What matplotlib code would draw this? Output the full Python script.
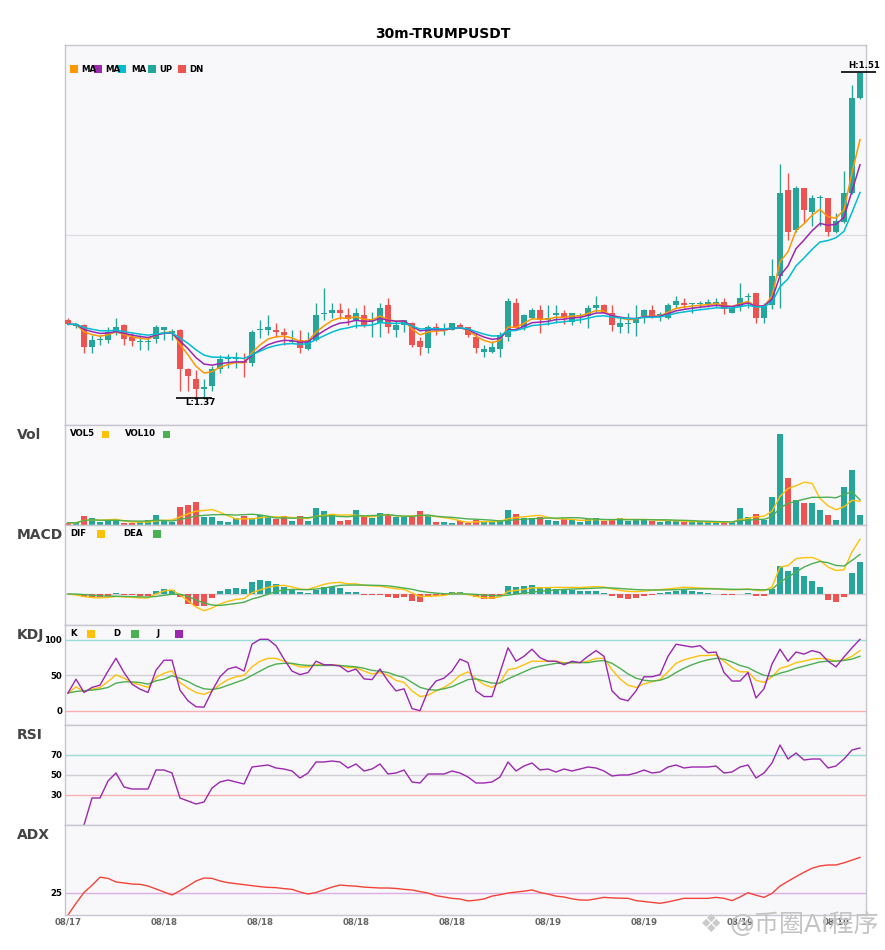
import numpy as np
import pandas as pd
import matplotlib
matplotlib.use("Agg")
import matplotlib.pyplot as plt
from matplotlib.patches import Rectangle

# ---------------- data ----------------
title = "30m-TRUMPUSDT"
tick_idx = [0, 12, 24, 36, 48, 60, 72, 84, 96]
tick_labels = ["08/17", "08/18", "08/18", "08/18", "08/18", "08/19", "08/19", "08/19", "08/19"]
ma_spans = [5, 8, 13]

opens = [1.4035, 1.4010, 1.4014, 1.3921, 1.3948, 1.3950, 1.3985, 1.4014, 1.3964, 1.3941,
         1.3941, 1.3953, 1.3993, 1.3981, 1.3993, 1.3826, 1.3783, 1.3741, 1.3754, 1.3826,
         1.3866, 1.3866, 1.3860, 1.3850, 1.3991, 1.3993, 1.3993, 1.3985, 1.3941, 1.3950,
         1.3911, 1.3950, 1.4061, 1.4067, 1.4078, 1.4057, 1.4035, 1.4057, 1.4029, 1.4021,
         1.4100, 1.3993, 1.4014, 1.4021, 1.3943, 1.3914, 1.4007, 1.3991, 1.3993, 1.4014,
         1.4004, 1.3964, 1.3900, 1.3900, 1.3911, 1.3964, 1.4107, 1.4007, 1.4045, 1.4078,
         1.4037, 1.4058, 1.4064, 1.4026, 1.4050, 1.4050, 1.4088, 1.4100, 1.4067, 1.4007,
         1.4017, 1.4024, 1.4050, 1.4078, 1.4055, 1.4045, 1.4100, 1.4107, 1.4102, 1.4102,
         1.4105, 1.4104, 1.4114, 1.4067, 1.4090, 1.4133, 1.4150, 1.4045, 1.4100, 1.4224,
         1.4592, 1.4421, 1.4599, 1.4499, 1.4556, 1.4556, 1.4413, 1.4456, 1.4578, 1.4984]
highs = [1.4044, 1.4024, 1.4018, 1.3971, 1.3971, 1.4007, 1.4043, 1.4016, 1.3980, 1.3971,
         1.3964, 1.4014, 1.4006, 1.3996, 1.3995, 1.3828, 1.3821, 1.3782, 1.3836, 1.3886,
         1.3890, 1.3900, 1.3894, 1.3993, 1.4035, 1.4057, 1.4021, 1.3999, 1.3993, 1.3993,
         1.3985, 1.4109, 1.4171, 1.4109, 1.4109, 1.4085, 1.4085, 1.4100, 1.4071, 1.4107,
         1.4128, 1.4035, 1.4037, 1.4028, 1.3964, 1.4014, 1.4021, 1.4021, 1.4023, 1.4024,
         1.4007, 1.3978, 1.3928, 1.3943, 1.3985, 1.4128, 1.4128, 1.4059, 1.4085, 1.4100,
         1.4100, 1.4100, 1.4078, 1.4066, 1.4064, 1.4100, 1.4138, 1.4102, 1.4100, 1.4043,
         1.4064, 1.4100, 1.4080, 1.4100, 1.4071, 1.4109, 1.4138, 1.4128, 1.4107, 1.4118,
         1.4124, 1.4128, 1.4128, 1.4087, 1.4192, 1.4152, 1.4152, 1.4107, 1.4295, 1.4702,
         1.4663, 1.4609, 1.4601, 1.4570, 1.4570, 1.4558, 1.4494, 1.4673, 1.5041, 1.5098]
lows = [1.4014, 1.4000, 1.3895, 1.3895, 1.3928, 1.3936, 1.3971, 1.3928, 1.3924, 1.3907,
        1.3907, 1.3936, 1.3950, 1.3950, 1.3729, 1.3729, 1.3700, 1.3707, 1.3729, 1.3807,
        1.3829, 1.3829, 1.3793, 1.3836, 1.3957, 1.3971, 1.3961, 1.3928, 1.3936, 1.3895,
        1.3907, 1.3943, 1.4035, 1.4043, 1.4038, 1.4014, 1.4000, 1.4007, 1.3964, 1.3961,
        1.3978, 1.3961, 1.3985, 1.3921, 1.3886, 1.3895, 1.3971, 1.3971, 1.3991, 1.4000,
        1.3964, 1.3895, 1.3876, 1.3895, 1.3876, 1.3947, 1.3993, 1.3993, 1.4038, 1.3981,
        1.4014, 1.4021, 1.4018, 1.4014, 1.4021, 1.4002, 1.4071, 1.4064, 1.3990, 1.3981,
        1.3981, 1.3967, 1.4021, 1.4043, 1.4032, 1.4038, 1.4085, 1.4085, 1.4064, 1.4085,
        1.4092, 1.4092, 1.4061, 1.4064, 1.4075, 1.4085, 1.4021, 1.4021, 1.4081, 1.4085,
        1.4378, 1.4413, 1.4449, 1.4438, 1.4438, 1.4395, 1.4406, 1.4449, 1.4575, 1.4980]
closes = [1.4017, 1.4014, 1.3921, 1.3950, 1.3951, 1.3985, 1.4007, 1.3953, 1.3943, 1.3944,
          1.3944, 1.4007, 1.4004, 1.3984, 1.3826, 1.3796, 1.3740, 1.3750, 1.3826, 1.3869,
          1.3869, 1.3869, 1.3850, 1.3983, 1.3993, 1.4004, 1.3983, 1.3971, 1.3943, 1.3914,
          1.3950, 1.4057, 1.4064, 1.4078, 1.4067, 1.4038, 1.4064, 1.4014, 1.4031, 1.4085,
          1.4007, 1.4014, 1.4035, 1.3928, 1.3921, 1.4007, 1.3996, 1.3993, 1.4021, 1.4007,
          1.3971, 1.3914, 1.3911, 1.3918, 1.3971, 1.4117, 1.4000, 1.4057, 1.4078, 1.4035,
          1.4040, 1.4064, 1.4043, 1.4064, 1.4053, 1.4085, 1.4100, 1.4067, 1.4014, 1.4024,
          1.4024, 1.4038, 1.4078, 1.4050, 1.4057, 1.4100, 1.4117, 1.4101, 1.4104, 1.4104,
          1.4107, 1.4114, 1.4081, 1.4085, 1.4128, 1.4135, 1.4045, 1.4100, 1.4224, 1.4578,
          1.4413, 1.4599, 1.4506, 1.4556, 1.4559, 1.4413, 1.4460, 1.4578, 1.4984, 1.5091]
volumes = [230, 200, 930, 730, 270, 450, 450, 150, 150, 270,
           450, 1030, 450, 300, 1770, 2030, 2330, 770, 770, 430,
           330, 670, 870, 730, 1030, 770, 600, 870, 430, 870,
           430, 1670, 1370, 1000, 430, 530, 1530, 870, 670, 1170,
           1030, 770, 770, 770, 1430, 930, 270, 270, 170, 430,
           200, 500, 300, 300, 500, 1500, 1100, 700, 700, 800,
           500, 400, 600, 500, 300, 600, 700, 400, 600, 700,
           400, 600, 500, 400, 300, 500, 400, 270, 270, 270,
           270, 270, 270, 270, 1670, 770, 1130, 500, 2770, 9030,
           4670, 2530, 2230, 2230, 1530, 1030, 530, 3730, 5430, 1030]
# MACD values (x 1e-4)
macd_dif = [0, -1.0, -2.7, -3.5, -4.0, -3.5, -2.5, -3.0, -3.3, -4.0,
            -4.0, 0, 3.0, 4.0, -1.0, -7.0, -13.0, -16.7, -14.0, -10.0,
            -7.3, -5.5, -4.5, 1.0, 4.0, 6.5, 8.0, 8.5, 7.0, 4.8,
            4.5, 7.0, 9.5, 11.0, 11.5, 10.0, 10.0, 8.5, 8.0, 7.8,
            6.3, 5.2, 4.5, 1.0, -2.5, -2.3, -2.0, -1.5, 0.5, 0.6,
            -0.6, -2.5, -3.8, -4.0, -3.0, 2.5, 3.5, 4.5, 6.0, 6.0,
            6.3, 6.5, 6.3, 6.5, 6.3, 6.8, 7.3, 6.8, 5.0, 3.5,
            2.5, 2.2, 2.8, 3.6, 4.2, 5.0, 5.8, 6.6, 6.4, 5.8,
            5.5, 5.2, 4.3, 4.0, 4.3, 5.0, 3.5, 3.2, 7.0, 26.7,
            28.3, 35.0, 36.0, 36.3, 33.3, 26.7, 23.3, 24.0, 41.7, 54.3]
macd_dea = [0, -0.2, -0.7, -1.3, -1.9, -2.2, -2.3, -2.5, -2.7, -2.9,
            -3.1, -2.5, -1.4, -0.3, -0.4, -2.5, -6.0, -9.0, -11.0, -11.5,
            -10.5, -9.5, -8.3, -5.0, -3.0, -0.3, 2.5, 4.0, 4.5, 4.3,
            4.2, 4.8, 5.8, 7.3, 8.5, 8.8, 8.8, 8.8, 8.6, 8.4,
            8.0, 7.0, 5.8, 4.6, 2.8, 1.6, 0.8, 0.2, 0.0, 0.0,
            -0.1, -0.5, -1.1, -1.6, -1.9, -1.2, -0.1, 0.8, 1.8, 2.6,
            3.3, 3.9, 4.4, 4.8, 5.1, 5.4, 5.8, 6.1, 5.9, 5.4,
            4.8, 4.3, 4.0, 3.9, 3.9, 4.0, 4.2, 4.6, 4.9, 5.0,
            5.0, 5.0, 4.8, 4.6, 4.5, 4.5, 4.3, 4.0, 4.5, 11.7,
            16.7, 21.7, 26.7, 30.0, 32.3, 31.0, 28.3, 27.7, 33.3, 39.3]
macd_hist = [0, -1.0, -3.5, -4.0, -3.5, -2.5, 1.0, -0.8, -1.2, -2.0,
             -1.6, 3.3, 5.0, 4.0, -3.0, -10.0, -12.3, -12.3, -4.0, 3.0,
             5.3, 6.0, 5.3, 11.7, 14.0, 13.3, 10.0, 6.7, 4.3, 1.7,
             1.0, 4.3, 7.3, 7.3, 6.0, 2.3, 2.3, -0.6, -1.3, -1.3,
             -3.3, -3.7, -2.7, -6.7, -8.3, -2.7, -2.0, -1.5, 2.3, 2.3,
             -0.3, -3.3, -5.4, -4.8, -2.2, 7.4, 7.2, 7.4, 8.4, 6.8,
             6.0, 5.2, 3.8, 3.4, 2.4, 2.8, 3.0, 1.4, -1.8, -3.8,
             -4.6, -4.2, -2.4, -0.6, 0.6, 2.0, 3.2, 4.0, 3.0, 1.6,
             1.0, 0.4, -1.0, -1.2, -0.4, 1.0, -1.6, -1.6, 5.0, 27.3,
             22.3, 26.3, 18.3, 13.3, 7.3, -5.7, -8.3, -3.3, 20.7, 31.7]
kdj_k = [25, 33.8, 26.8, 30.5, 32.9, 41.3, 50.7, 46, 39.9, 36.6,
         32.9, 46.9, 53, 56.3, 39.9, 32, 25.8, 23, 28, 37,
         44, 48, 50, 62, 70, 74, 74, 70, 66, 62,
         62, 65, 65, 65, 64, 61, 61, 56, 52, 54,
         50, 43, 40, 28, 20, 22, 28, 33, 40, 50,
         55, 45, 37, 33, 40, 58, 60, 65, 70, 70,
         70, 70, 68, 68, 68, 70, 74, 74, 58, 45,
         36, 33, 38, 41, 44, 55, 67, 72, 75, 78,
         78, 79, 70, 61, 55, 55, 43, 40, 48, 60,
         63, 68, 70, 73, 74, 73, 70, 72, 77, 85]
kdj_d = [25, 27.2, 28.2, 29.1, 30.5, 32.9, 39, 40.8, 40.8, 39.9,
         37.6, 42.3, 44.6, 49.3, 46, 41.3, 35.2, 31, 30, 32,
         36, 40, 44, 50, 56, 62, 66, 67, 67, 65,
         64, 64, 64, 64, 64, 63, 62, 60, 57, 56,
         54, 50, 47, 40, 33, 30, 29, 31, 34, 39,
         44, 45, 42, 39, 39, 45, 50, 55, 60, 63,
         65, 67, 67, 68, 68, 68, 70, 71, 67, 60,
         52, 46, 43, 42, 43, 47, 54, 60, 65, 69,
         72, 74, 73, 69, 64, 61, 55, 50, 49, 53,
         56, 60, 63, 66, 69, 70, 70, 71, 73, 77]
kdj_j = [25, 44.6, 25.8, 32.9, 36.2, 56, 74.2, 54, 37.6, 30.5,
         25.8, 57.3, 71.4, 71.4, 29.1, 14, 5.6, 5, 28, 48,
         59, 62, 56, 94, 101, 101, 92, 73, 56, 51,
         54, 70, 65, 65, 63, 55, 59, 45, 44, 59,
         42, 28, 31, 3, 0, 28, 42, 46, 56, 73,
         68, 28, 20, 20, 54, 89, 70, 77, 87, 75,
         70, 70, 65, 70, 68, 77, 85, 77, 28, 17,
         14, 28, 48, 48, 51, 77, 94, 92, 90, 92,
         82, 83, 54, 42, 42, 54, 18, 31, 66, 87,
         70, 83, 80, 85, 82, 70, 62, 76, 89, 101]
rsi = [np.nan, np.nan, 0, 27, 27, 44, 52, 38, 36, 36,
       36, 55, 55, 52, 27, 24, 21, 23, 37, 43,
       45, 43, 41, 58, 59, 60, 57, 56, 54, 47,
       52, 63, 63, 64, 63, 57, 61, 54, 56, 61,
       51, 52, 55, 43, 42, 51, 51, 51, 54, 52,
       48, 42, 42, 43, 48, 63, 54, 59, 62, 55,
       56, 53, 56, 54, 56, 58, 57, 54, 49, 50,
       50, 52, 55, 52, 53, 58, 60, 57, 58, 58,
       58, 59, 52, 53, 58, 60, 47, 52, 62, 80,
       66, 72, 65, 66, 66, 57, 59, 66, 75, 77]
adx = [0, 13, 25, 33, 42, 40.7, 36.7, 35.6, 34.4, 34.1,
       32.2, 28.9, 25.6, 22.2, 27, 32.2, 37.8, 41.1, 40.7, 37.8,
       35.9, 34.8, 33.7, 32.6, 31.5, 30.7, 30.4, 29.3, 28.5, 25.6,
       23.3, 25, 28, 31, 33.3, 32.5, 32, 31, 30.5, 30,
       30, 29.5, 28.5, 27.8, 26, 24.4, 21.5, 20, 18.5, 17.8,
       15.6, 16.5, 17.8, 21, 22.5, 24.4, 25.5, 26.5, 27.8, 25,
       23.3, 21, 20, 18, 16.7, 16.5, 18, 19.6, 19, 18.7,
       18.5, 16, 15, 14, 13, 14.5, 16.5, 18.5, 18.5, 18.5,
       18.5, 19.6, 18.5, 16, 20, 24.8, 22, 19.6, 24, 32.2,
       37.5, 42.6, 47.5, 51.9, 54.5, 55.6, 55.6, 58, 61, 64]

# ---------------- style ----------------
UP, DN = "#26a69a", "#ef5350"
C_MA = ["#ff9800", "#9c27b0", "#00bcd4"]
C_Y, C_G, C_P = "#ffc107", "#4caf50", "#9c27b0"
BG, SPINE = "#f8f8fb", "#c6c6ce"
W, H = 885, 950
XL = (-0.375, 99.75)

o = np.array(opens); h = np.array(highs); l = np.array(lows); c = np.array(closes)
v = np.array(volumes, dtype=float)
n = len(c)
x = np.arange(n)
up = c >= o
cols = np.where(up, UP, DN)

cs = pd.Series(c)
mas = [cs.ewm(span=s, adjust=False).mean() for s in ma_spans]
vs = pd.Series(v)
vol5 = vs.rolling(5, min_periods=1).mean()
vol10 = vs.rolling(10, min_periods=1).mean()
dif = np.array(macd_dif); dea = np.array(macd_dea); hist = np.array(macd_hist)

fig = plt.figure(figsize=(W / 100, H / 100), dpi=100)
fig.patch.set_facecolor("white")


def add_ax(top, bottom):
    ax = fig.add_axes([65 / W, 1 - bottom / H, 801 / W, (bottom - top) / H])
    ax.set_facecolor(BG)
    for s in ax.spines.values():
        s.set_color(SPINE)
        s.set_linewidth(1.0)
    ax.set_xlim(*XL)
    ax.set_xticks([])
    ax.tick_params(axis="both", length=0, labelsize=6.2, pad=2)
    return ax


def ftxt(px, py, s, **kw):
    kw.setdefault("fontsize", 6.2)
    kw.setdefault("fontweight", "bold")
    kw.setdefault("va", "center")
    fig.text(px / W, 1 - py / H, s, **kw)


def fsq(px, py, color, size=8):
    fig.add_artist(Rectangle((px / W, 1 - (py + size / 2) / H), size / W, size / H,
                             transform=fig.transFigure, color=color, lw=0))


# ---- main candle panel
ax = add_ax(45, 425)
ax.vlines(x, l, h, colors=cols, lw=1.0, zorder=2)
minh = 0.0006
ax.bar(x, np.maximum(np.abs(c - o), minh), bottom=np.minimum(o, c), width=0.75,
       color=cols, zorder=3)
for m, col in zip(mas, C_MA):
    ax.plot(x, m, color=col, lw=1.1, zorder=4)
lo, hi = l.min(), h.max()
rng = hi - lo
ax.set_ylim(lo - 0.082 * rng, hi + 0.082 * rng)
mid = sum(ax.get_ylim()) / 2
ax.set_yticks([mid])
ax.tick_params(axis="y", labelleft=False)
ax.grid(axis="y", color="#dcdce2", lw=0.9)
ax.set_axisbelow(True)
il, ih = int(np.argmin(l)), int(np.argmax(h))
ax.hlines(lo, il - 2.5, il + 2.0, color="black", lw=1.2, zorder=5)
ax.text(il + 0.5, lo, "L:%.2f" % lo, ha="center", va="top", fontsize=6.2,
        fontweight="bold", zorder=5)
ax.hlines(hi, ih - 2.4, ih + 2.0, color="black", lw=1.2, zorder=5, clip_on=False)
ax.text(ih + 0.5, hi + 0.0006, "H:%.2f" % hi, ha="center", va="bottom", fontsize=6.2,
        fontweight="bold", zorder=5, clip_on=False)

# main legend
fsq(70, 69, C_MA[0]); ftxt(81, 69, "MA")
fsq(94, 69, C_MA[1]); ftxt(105, 69, "MA")
fsq(118, 69, C_MA[2]); ftxt(131, 69, "MA")
fsq(148, 69, UP); ftxt(159, 69, "UP")
fsq(178, 69, DN); ftxt(189, 69, "DN")

fig.text(0.5, 1 - 34 / H, title, ha="center", va="center", fontsize=10, fontweight="bold")

# ---- volume
axv = add_ax(425, 525)
axv.bar(x, v, width=0.78, color=cols)
axv.plot(x, vol5, color=C_Y, lw=1.0)
axv.plot(x, vol10, color=C_G, lw=1.0)
axv.set_ylim(0, v.max() * 1.1)
axv.set_yticks([])
ftxt(70, 434, "VOL5"); fsq(102, 434, C_Y, 7)
ftxt(125, 434, "VOL10"); fsq(163, 434, C_G, 7)

# ---- MACD
axm = add_ax(525, 625)
hcols = np.where(hist >= 0, UP, DN)
axm.axhline(0, color="#d2d2d8", lw=1.0, zorder=1)
axm.bar(x, hist, width=0.78, color=hcols, zorder=2)
axm.plot(x, dif, color=C_Y, lw=1.0, zorder=3)
axm.plot(x, dea, color=C_G, lw=1.0, zorder=3)
allm = np.concatenate([dif, dea, hist, [0]])
mr = allm.max() - allm.min()
axm.set_ylim(allm.min() - 0.2 * mr, allm.max() + 0.2 * mr)
axm.set_yticks([])
ftxt(70, 534, "DIF"); fsq(97, 534, C_Y, 8)
ftxt(123, 534, "DEA"); fsq(153, 534, C_G, 8)

# ---- KDJ
axk = add_ax(625, 725)
axk.axhline(100, color="#9adcd6", lw=1.0, zorder=1)
axk.axhline(50, color="#cfcfd4", lw=1.0, zorder=1)
axk.axhline(0, color="#f6b0b0", lw=1.0, zorder=1)
axk.plot(x, kdj_k, color=C_Y, lw=1.0)
axk.plot(x, kdj_d, color=C_G, lw=1.0)
axk.plot(x, kdj_j, color=C_P, lw=1.0)
allk = np.concatenate([kdj_k, kdj_d, kdj_j])
kr = allk.max() - allk.min()
axk.set_ylim(allk.min() - 0.2 * kr, allk.max() + 0.2 * kr)
axk.set_yticks([0, 50, 100])
axk.set_yticklabels(["0", "50", "100"], fontweight="bold")
ftxt(70, 634, "K"); fsq(87, 634, C_Y, 8)
ftxt(113, 634, "D"); fsq(131, 634, C_G, 8)
ftxt(157, 634, "J"); fsq(175, 634, C_P, 8)

# ---- RSI
axr = add_ax(725, 825)
axr.axhline(70, color="#9adcd6", lw=1.0, zorder=1)
axr.axhline(50, color="#cfcfd4", lw=1.0, zorder=1)
axr.axhline(30, color="#f6b0b0", lw=1.0, zorder=1)
axr.plot(x, rsi, color=C_P, lw=1.0)
axr.set_ylim(0, 100)
axr.set_yticks([30, 50, 70])
axr.set_yticklabels(["30", "50", "70"], fontweight="bold")

# ---- ADX
axa = add_ax(825, 915)
axa.axhline(25, color="#dcaee4", lw=1.0, zorder=1)
axa.plot(x, adx, color="#f44336", lw=1.0)
axa.set_ylim(0, 100)
axa.set_yticks([25])
axa.set_yticklabels(["25"], fontweight="bold")
axa.set_xticks(tick_idx)
axa.set_xticklabels(tick_labels, fontweight="bold", color="#666666")

# panel labels
for name, py in [("Vol", 435), ("MACD", 535), ("KDJ", 635), ("RSI", 735), ("ADX", 835)]:
    fig.text(17 / W, 1 - py / H, name, fontsize=10, fontweight="bold", color="#444444",
             va="center", ha="left")

# watermark
fig.text(700 / W, 1 - 925 / H, "\u2756", fontsize=18, color="#cacaca", va="center",
         family="DejaVu Sans")
fig.text(729 / W, 1 - 925 / H, "@币圈AI程序", fontsize=18, color="#c4c4c4", va="center",
         family=["DejaVu Sans", "Noto Sans CJK SC"])

fig.savefig("out.png", dpi=100)
